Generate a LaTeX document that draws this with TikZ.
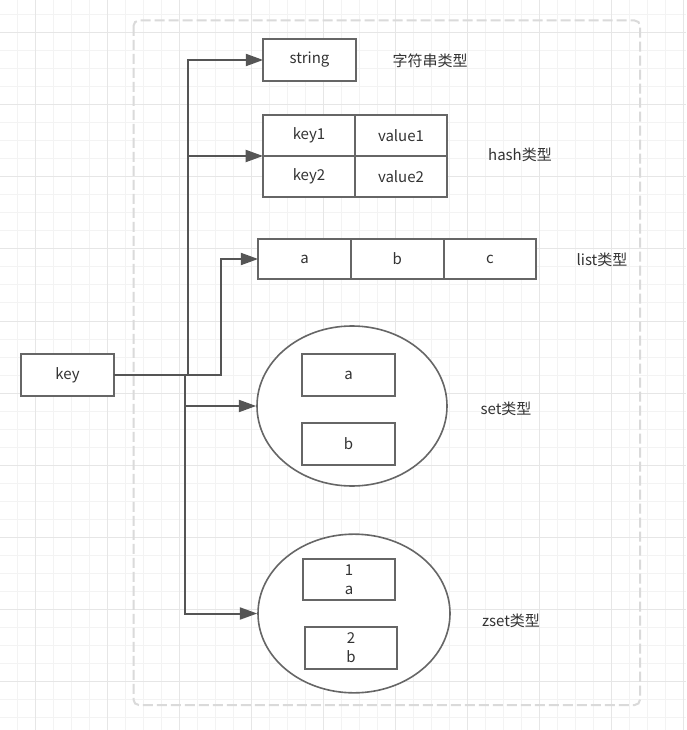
\documentclass[tikz,border=0pt]{standalone}
\usepackage{fontspec}
\setmainfont{Noto Sans CJK SC}
\usetikzlibrary{arrows.meta,positioning,shapes.geometric}
\definecolor{txtgray}{HTML}{333333}
\definecolor{boxgray}{HTML}{666666}
\definecolor{linkgray}{HTML}{555555}
\definecolor{gridminor}{HTML}{F3F3F3}
\definecolor{gridmajor}{HTML}{E6E6E6}
\definecolor{framegray}{HTML}{DADADA}
\tikzset{
  cell/.style={draw=boxgray,line width=1.5pt,fill=white,minimum width=69.5pt,minimum height=31pt,inner sep=0pt,outer sep=0pt,text=txtgray,align=center},
  bag/.style={ellipse,draw=boxgray,line width=1.2pt,fill=white,inner sep=0pt},
  link/.style={draw=linkgray,line width=1.5pt,-{Triangle[length=13pt,width=9pt]}},
  tag/.style={text=txtgray},
}
\begin{document}
\begin{tikzpicture}[x=0.75pt,y=-0.75pt,font=\fontsize{11.25}{14.25}\selectfont]
		\useasboundingbox (0,0) rectangle (686,730);
		\fill[white] (0,0) rectangle (686,730);
		% grid
		\foreach \i in {0,...,37} \draw[gridminor,line width=0.75pt] ({17+18*\i},0) -- ({17+18*\i},730);
		\foreach \i in {0,...,39} \draw[gridminor,line width=0.75pt] (0,{15+18*\i}) -- (686,{15+18*\i});
		\foreach \x in {35,107,...,683} \draw[gridmajor,line width=0.75pt] (\x,0) -- (\x,730);
		\foreach \y in {33,105,...,681} \draw[gridmajor,line width=0.75pt] (0,\y) -- (686,\y);
		\draw[framegray,line width=1.5pt,dash pattern=on 7.5pt off 3pt,rounded corners=4pt] (133.5,20.5) rectangle (640,705);
		% key and values
		\node[cell] (key) at (67.5,375) {key};
		\node[cell] (str) at (309.5,60) {string};
		\node[cell,minimum width=69pt,minimum height=30.75pt] (h1) at (309,135.5) {key1};
		\node[cell,minimum width=69pt,minimum height=30.75pt,right=0pt of h1] (h2) {value1};
		\node[cell,minimum width=69pt,minimum height=30.75pt,below=0pt of h1] (h3) {key2};
		\node[cell,minimum width=69pt,minimum height=30.75pt,right=0pt of h3] (h4) {value2};
		\node[cell,minimum height=30pt] (l1) at (304.5,259) {a};
		\node[cell,minimum height=30pt,right=0pt of l1] (l2) {b};
		\node[cell,minimum height=30pt,right=0pt of l2] (l3) {c};
		\node[bag,minimum width=142.5pt,minimum height=120pt] (setE) at (352,406) {};
		\node[cell] (s1) at (348.5,375) {a};
		\node[cell] (s2) at (348.5,444) {b};
		\node[bag,minimum width=144pt,minimum height=119pt] (zsetE) at (354,613.5) {};
		\node[cell] (z1) at (349,579.5) {1\\a};
		\node[cell] (z2) at (351,648) {2\\b};
		% type labels
		\node[tag] (strTag) at (430,61) {字符串类型};
		\node[tag] (hashTag) at (520,155) {hash类型};
		\node[tag] (listTag) at (602,260) {list类型};
		\node[tag] (setTag) at (506,409) {set类型};
		\node[tag] (zsetTag) at (511,621) {zset类型};
		% connectors
		\coordinate (upper) at (188,375);
		\coordinate (lower) at (185,375);
		\coordinate (bend) at (221,375);
		\draw[link] (key.east) -- (upper) |- (str.west);
		\draw[link] (key.east) -- (upper) |- (h1.south west);
		\draw[link] (key.east) -- (bend) |- (l1.west);
		\draw[link] (key.east) -- (lower) |- (setE.west);
		\draw[link] (key.east) -- (lower) |- (zsetE.west);
\end{tikzpicture}
\end{document}
